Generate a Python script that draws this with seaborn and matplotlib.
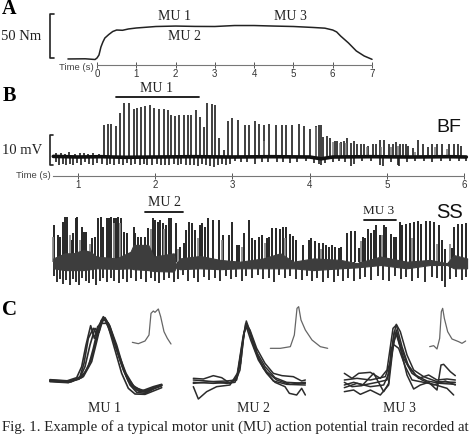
import pandas as pd
import matplotlib
matplotlib.use("Agg")
import matplotlib.pyplot as plt
import seaborn as sns

W, H = 474, 434
SERIF = "Liberation Serif"
SANS = "Liberation Sans"

# panel A, joint torque
torque_t = [-0.74, -0.3, -0.05, 0, 0.05, 0.1, 0.15, 0.2, 0.3, 0.4, 0.5, 0.65, 0.8, 1, 1.5, 2, 2.5, 3, 3.5, 4, 4.5, 5, 5.5, 5.8, 6, 6.1, 6.2, 6.4, 6.6, 6.8, 7]
torque_nm = [0.6, 0.8, 0, 1.7, 5.1, 14.2, 19.9, 24.4, 28.4, 31.8, 33.5, 33.2, 34.7, 35.8, 37.5, 38, 37.6, 37.5, 38.6, 38.6, 38, 37.5, 36.4, 35.6, 33.5, 31.3, 26.7, 18.8, 9.7, 4, 0.2]
a_ticks = [0, 1, 2, 3, 4, 5, 6, 7]

# panel B, biceps (BF) spikes
bf_t = [1.34, 1.39, 1.43, 1.49, 1.54, 1.60, 1.66, 1.73, 1.77, 1.82, 1.87, 1.93, 1.99, 2.05, 2.11, 2.16, 2.2, 2.26, 2.31, 2.37, 2.42, 2.47, 2.53, 2.58, 2.63, 2.67, 2.73, 2.78, 2.83, 2.89, 2.94, 3.0,
        3.07, 3.16, 3.21, 3.29, 3.35, 3.41, 3.48, 3.56, 3.64, 3.70, 3.77, 3.86, 3.93, 4.01, 4.08, 4.12, 4.15, 4.18, 4.22, 4.27, 4.33, 4.36, 4.41, 4.44, 4.49, 4.54, 4.57, 4.61, 4.66, 4.71, 4.76, 4.82, 4.86, 4.91, 4.97, 5.03, 5.08, 5.12, 5.17, 5.21, 5.25, 5.28, 5.34, 5.40, 5.47, 5.53, 5.59, 5.65, 5.72, 5.81, 5.87, 5.92, 5.96]
bf_mv = [10.8, 11.1, 11, 10.5, 14.7, 18, 18, 16.1, 16.5, 16.8, 17, 17.4, 16.5, 16, 16, 15.8, 14.1, 13.7, 13.9, 14.1, 13.9, 13.9, 15.8, 13.4, 9.9, 18, 17.6, 17.2, 6.3, 2.4, 11.9, 13,
         12.4, 10.8, 10.6, 12.1, 11.1, 10.8, 11, 10.8, 10.8, 10.8, 10.6, 11.1, 10.4, 9.3, 10.2, 10.6, 10.8, 6.6, 7.1, 6.3, 5.4, 5.2, 5, 5.2, 6.3, 4.6, 5.4, 4.2, 4.3, 4.3, 3.8, 4.3, 4.2, 5.6, 5.6, 4.5, 4.3, 5, 4.2, 4.3, 4.2, 3.7, 2.9, 5.6, 4.2, 3.2, 4.2, 4.2, 4.2, 4.2, 4.2, 4.2, 3.8]
bf_grey_t = [3.41, 4.08, 4.30, 4.39, 4.47, 4.74, 4.93, 5.06, 5.15, 5.37, 5.63, 5.78]
bf_grey_mv = [5.5, 10, 5, 4.6, 4.8, 3.2, 3.4, 3.4, 3.6, 1.8, 3.2, 2.8]
bf_down_t = [0.72, 0.76, 0.80, 0.84, 0.90, 0.94, 0.99, 1.04, 1.09, 1.14, 1.19, 1.25, 1.31, 1.37, 1.42, 1.47, 1.53, 1.58, 1.63, 1.69, 1.74, 1.80, 1.85, 1.90, 1.96, 2.02, 2.08, 2.13, 2.18, 2.24, 2.29, 2.34, 2.40, 2.45, 2.50, 2.56, 2.61, 2.66, 2.71, 2.76, 2.81, 2.87, 2.92, 2.97,
             3.04, 3.11, 3.19, 3.29, 3.38, 3.46, 3.58, 3.66, 3.74, 3.84, 3.95, 4.06, 4.12, 4.15, 4.20, 4.30, 4.38, 4.46, 4.54, 4.58, 4.68, 4.79, 4.91, 4.95, 5.05, 5.14, 5.16, 5.26, 5.37, 5.48, 5.58, 5.70, 5.82, 5.93, 6.02]
bf_down_mv = [1.8, 2.6, 2.2, 2.8, 2.4, 2.7, 1.9, 2.6, 1.8, 2.2, 2.5, 2.1, 2.4, 2.7, 2.2, 2.8, 2.3, 2.6, 2.1, 2.8, 2.4, 2.7, 2.2, 2.6, 2.8, 2.3, 2.7, 2.5, 2.8, 2.2, 2.6, 2.4, 2.8, 2.5, 2.7, 2.9, 2.3, 2.8, 3.0, 3.3, 2.6, 2.2, 2.7, 2.4,
              1.4, 1.8, 1.6, 2.4, 1.7, 1.5, 1.8, 1.6, 1.9, 1.5, 1.4, 2.0, 2.4, 2.6, 1.9, 1.5, 1.4, 1.6, 2.9, 2.2, 1.3, 1.4, 2.6, 3.0, 1.6, 2.8, 3.0, 1.5, 1.3, 1.2, 1.5, 1.3, 1.4, 1.3, 1.4]
bf_up_t = [0.72, 0.78, 0.83, 0.88, 0.96, 1.02, 1.08, 1.13, 1.20, 1.27]
bf_up_mv = [1.2, 1.4, 1.1, 1.6, 1.0, 1.2, 1.5, 1.0, 1.2, 0.9]
bf_base_t = [0.68, 1.0, 1.3, 1.6, 2.0, 2.5, 3.0, 3.5, 4.0, 4.15, 4.3, 4.8, 5.3, 5.8, 6.03]
bf_base_mv = [0.2, 0, 0.1, -0.1, 0, 0.1, 0, 0.1, 0, -0.6, 0, 0.1, 0, 0.1, 0]
b_ticks = [1, 2, 3, 4, 5, 6]

# panel B, SS spikes
ss_t = [0.685, 0.745, 0.767, 0.80, 0.83, 0.86, 0.92, 0.94, 0.97, 0.99, 1.05, 1.08, 1.11, 1.18, 1.22, 1.26, 1.30, 1.33, 1.37, 1.40, 1.43, 1.46, 1.49, 1.52, 1.56, 1.59, 1.64, 1.72, 1.74, 1.78, 1.82, 1.87, 1.91, 1.97, 2.0, 2.03, 2.06, 2.10, 2.14, 2.18, 2.21, 2.27, 2.32, 2.37, 2.40, 2.44, 2.48, 2.52, 2.58, 2.61, 2.65, 2.69, 2.75, 2.83, 2.88, 2.95, 3.0, 3.06, 3.09, 3.15, 3.21, 3.25, 3.29,
        3.34, 3.38, 3.45, 3.48, 3.51, 3.56, 3.62, 3.66, 3.70, 3.75, 3.79, 3.83, 3.92, 3.99, 4.02, 4.07, 4.12, 4.17, 4.21, 4.25, 4.29, 4.33, 4.38, 4.41, 4.49, 4.54, 4.59, 4.64, 4.69, 4.72, 4.75, 4.79, 4.83, 4.86, 4.91, 4.96, 4.99, 5.05, 5.09, 5.12, 5.17, 5.20, 5.25, 5.30, 5.35, 5.40, 5.44, 5.51, 5.56, 5.61, 5.68, 5.72, 5.76, 5.84, 5.87, 5.92, 5.97, 6.02]
ss_mv = [12.3, 9, 8.4, 13.4, 15.1, 15.1, 7.3, 9.6, 14.6, 15.1, 11.8, 10.1, 10.1, 7.9, 8.4, 14.6, 15.1, 11.8, 14.6, 14.6, 15.1, 14.6, 14.6, 15.1, 14.6, 10.1, 9.6, 11.8, 9.6, 8.4, 8.4, 8.4, 11.2, 14.6, 14, 13.4, 14, 12.9, 12.3, 14.6, 14.6, 12.9, 5.1, 6.2, 10.7, 13.4, 12.9, 10.7, 12.3, 12.9, 11.8, 14.6, 14, 14, 9, 9, 13.4, 5.7, 5.7, 9.6, 14, 7.9, 7.3,
         8.4, 9, 7.9, 8.4, 11.2, 11.2, 10.9, 11.6, 11.6, 9.3, 8.7, 7.3, 5.7, 7.3, 7.9, 7.1, 6.4, 6.4, 5.7, 5.1, 5.7, 5.1, 4.6, 5.1, 9.6, 10.3, 10.4, 4.6, 8.2, 7.9, 10.9, 9.6, 10.7, 12.3, 9, 12.3, 11.8, 9.2, 8.4, 8.4, 13.4, 12.3, 12.6, 12.9, 13.2, 13.7, 12.6, 13.7, 13.8, 13.2, 12.3, 7.3, 4.2, 4.6, 11.8, 12.6, 12.6, 12.9]
ss_grey_t = [0.68, 0.89, 1.02, 1.15, 1.47, 1.54, 1.94, 2.12, 2.30, 2.56, 2.86, 3.13, 3.42, 3.68, 4.15, 4.67, 4.94, 5.33, 5.65, 5.82]
ss_grey_mv = [8.4, 9, 7.5, 6, 13, 13, 11, 11, 4.5, 8, 7.5, 5, 6.5, 8, 4.5, 7, 9, 8, 6, 6]
ss_down_t = [0.69, 0.73, 0.77, 0.81, 0.85, 0.89, 0.93, 0.97, 1.01, 1.05, 1.10, 1.14, 1.19, 1.23, 1.28, 1.33, 1.38, 1.43, 1.47, 1.53, 1.58, 1.64, 1.69, 1.75, 1.81, 1.88, 1.94, 2.00, 2.05, 2.12, 2.18, 2.24, 2.30, 2.36, 2.43, 2.50, 2.56, 2.63, 2.70, 2.77, 2.84, 2.92, 2.98, 3.05, 3.12, 3.18, 3.26,
             3.33, 3.40, 3.47, 3.54, 3.60, 3.68, 3.75, 3.82, 3.90, 3.96, 4.03, 4.10, 4.17, 4.24, 4.31, 4.37, 4.43, 4.50, 4.58, 4.65, 4.72, 4.80, 4.88, 4.95, 5.03, 5.10, 5.18, 5.25, 5.33, 5.41, 5.50, 5.58, 5.65, 5.71, 5.75, 5.82, 5.90, 5.98, 6.03]
ss_down_mv = [4.5, 6.5, 5.8, 7.2, 6, 7.5, 5.5, 6.8, 7.6, 5.2, 6.3, 7.1, 5.6, 7.7, 6.4, 5.3, 6.8, 5.4, 6.2, 7, 5.8, 6.6, 5.2, 6.4, 5.6, 6.8, 5.4, 6.2, 7, 6, 5.2, 6.6, 5.6, 4.2, 6.2, 5.4, 6.6, 5, 6, 5.2, 6.4, 4.8, 5.8, 5, 6.2, 4.8, 5.4,
              4.2, 5.6, 5.2, 6.6, 4.4, 5.4, 4.6, 5.8, 6, 4.6, 6.4, 5.2, 6.6, 5.4, 6.8, 4.8, 6.2, 5.2, 6.4, 5.6, 5, 6, 4.8, 6, 6.4, 4.8, 5.8, 5, 6.4, 5.2, 6.6, 5, 5.4, 6.2, 8.2, 5.6, 5, 6, 5]
ss_band_t = [0.68, 0.83, 0.94, 1.07, 1.16, 1.24, 1.50, 1.68, 1.72, 1.91, 1.98, 2.24, 2.27, 2.32, 2.58, 2.84, 3.10, 3.40, 3.62, 3.79, 4.05, 4.40, 4.61, 4.92, 5.26, 5.56, 5.78, 5.87, 6.04]
ss_band_top = [1.2, 2.9, 2.9, 4, 3.4, 1.8, 1.2, 3.4, 5.7, 5.7, 1.8, 2.9, -1, 1.2, 2, 0.7, 0.1, 1.2, 2.9, 0.1, 1.2, 0.7, -0.4, 1.8, 0.1, 0.7, -0.4, 2.3, 1.2]
ss_band_bot = [-2.1, -2.7, -2.7, -2.7, -2.4, -2.1, -2.3, -2.1, -2.4, -2.7, -3, -3.2, -1.8, -2.4, -2.1, -2.4, -2.1, -2.1, -2.1, -2.1, -2.7, -2.1, -1.8, -1, -2.1, -1, -1, -2.1, -2.1]

# panel C, superimposed action potentials: (sample, amplitude)
mu1_traces = [
    [(150, 44), (200, 42), (230, 52), (245, 85), (258, 150), (272, 208), (283, 170), (293, 205), (305, 215), (320, 215), (340, 165), (360, 105), (380, 55), (405, 22), (435, 12), (460, 22), (485, 30)],
    [(150, 42), (205, 38), (238, 48), (255, 85), (270, 150), (285, 200), (297, 188), (310, 230), (325, 215), (345, 155), (365, 90), (385, 42), (410, 15), (435, 10), (460, 20), (485, 28)],
    [(150, 46), (210, 42), (245, 52), (265, 85), (280, 140), (295, 205), (310, 235), (328, 210), (350, 150), (372, 75), (392, 32), (415, 12), (440, 8), (462, 20), (485, 30)],
    [(150, 42), (200, 40), (235, 48), (255, 68), (275, 110), (290, 170), (305, 225), (315, 232), (330, 205), (350, 140), (370, 75), (390, 30), (410, 8), (435, 5), (460, 18), (485, 28)],
    [(150, 40), (205, 37), (250, 55), (275, 100), (290, 160), (303, 215), (313, 228), (325, 205), (345, 135), (365, 65), (385, 20), (405, 3), (435, 2), (460, 12), (485, 22)],
    [(150, 44), (215, 40), (240, 55), (252, 95), (265, 170), (280, 200), (292, 180), (305, 225), (318, 225), (335, 185), (355, 125), (378, 65), (400, 28), (425, 12), (460, 25), (485, 32)],
]
mu2_traces = [
    [(580, 45), (620, 42), (680, 35), (705, 38), (720, 75), (730, 170), (739, 222), (752, 185), (772, 125), (795, 85), (825, 52), (860, 38), (916, 35)],
    [(580, 35), (630, 40), (680, 42), (706, 45), (722, 95), (733, 190), (741, 212), (755, 170), (775, 110), (800, 70), (830, 45), (870, 32), (916, 38)],
    [(580, 50), (610, 48), (640, 58), (665, 52), (690, 35), (712, 55), (726, 150), (737, 215), (750, 195), (770, 140), (795, 95), (820, 65), (846, 58), (880, 55), (905, 42), (916, 45)],
    [(580, 25), (595, -12), (620, 10), (650, 25), (690, 30), (712, 65), (730, 180), (739, 205), (752, 165), (775, 105), (800, 65), (825, 38), (855, 25), (868, 5), (890, 0), (905, 20), (916, 0)],
    [(580, 38), (640, 35), (690, 38), (710, 45), (724, 130), (735, 200), (745, 200), (765, 135), (790, 80), (820, 42), (860, 32), (916, 30)],
]
mu3_offset = 711
mu3_traces = [
    [(322, 45), (360, 50), (400, 45), (445, 55), (460, 100), (470, 180), (478, 212), (490, 190), (510, 120), (530, 75), (560, 55), (600, 40), (655, 38)],
    [(322, 30), (350, 38), (380, 30), (420, 38), (450, 45), (465, 125), (478, 195), (490, 150), (510, 95), (535, 60), (570, 42), (610, 35), (655, 32)],
    [(322, 65), (345, 50), (365, 65), (400, 68), (430, 50), (450, 75), (468, 200), (478, 210), (495, 145), (515, 85), (545, 50), (575, 60), (600, 45), (630, 48), (655, 45)],
    [(322, 10), (350, 15), (370, 2), (400, 15), (430, 0), (455, 30), (470, 160), (480, 185), (495, 120), (510, 60), (530, 18), (550, 30), (575, 38), (600, 15), (612, 90), (620, 92), (640, 70), (655, 58)],
    [(322, 38), (345, 25), (375, 28), (410, 65), (440, 10), (455, 35), (462, 140), (472, 150), (485, 140), (505, 85), (525, 45), (560, 38), (590, 32), (630, 20), (650, 0)],
    [(322, 22), (360, 35), (400, 25), (440, 30), (458, 70), (472, 190), (480, 175), (500, 110), (525, 65), (555, 45), (590, 30), (625, 42), (655, 30)],
]
mu1_inset = [(397, 158), (415, 154), (435, 162), (447, 180), (453, 245), (460, 252), (465, 248), (475, 258), (482, 235), (492, 190), (502, 170), (513, 153)]
mu2_inset = [(100, 140), (130, 140), (160, 145), (172, 180), (180, 260), (185, 265), (192, 225), (205, 195), (225, 165), (250, 145), (272, 140)]
mu3_inset = [(578, 145), (590, 148), (600, 138), (608, 170), (613, 250), (617, 260), (622, 230), (632, 190), (645, 168), (665, 160), (675, 155), (686, 162)]


def px_axes(fig, left, top, right, bottom):
    ax = fig.add_axes([left / W, 1 - bottom / H, (right - left) / W, (bottom - top) / H])
    ax.patch.set_alpha(0)
    for s in ["top", "right", "left", "bottom"]:
        ax.spines[s].set_visible(False)
    ax.set_yticks([])
    ax.set_xticks([])
    return ax


def spikes(ax, t, mv, color="#1f1f1f", lw=1.2):
    ax.vlines(t, 0, mv, color=color, linewidth=lw)


def time_axis(ax, ticks, start, label_size=7):
    ax.spines["bottom"].set_visible(True)
    ax.spines["bottom"].set_color("#777777")
    ax.spines["bottom"].set_linewidth(0.8)
    ax.spines["bottom"].set_bounds(start, ticks[-1])
    ax.set_xticks(ticks)
    ax.tick_params(axis="x", direction="inout", length=4, width=0.7, color="#555555",
                   labelsize=label_size, labelcolor="#333333", pad=1, bottom=True)
    for lab in ax.get_xticklabels():
        lab.set_family(SANS)


def waves(ax, traces, color, lw, dx=0):
    rows = []
    for i, tr in enumerate(traces):
        for x, y in tr:
            rows.append({"trace": i, "sample": x + dx, "amp": y})
    df = pd.DataFrame(rows)
    sns.lineplot(data=df, x="sample", y="amp", units="trace", estimator=None, sort=False,
                 color=color, linewidth=lw, legend=False, ax=ax)


sns.set_theme(style="white")
plt.rcParams["font.family"] = [SERIF, "DejaVu Serif"]

fig = plt.figure(figsize=(W / 100, H / 100), dpi=100, facecolor="white")

# A
ax_a = px_axes(fig, 45, 8, 378, 65)
sns.lineplot(x=torque_t, y=torque_nm, color="#222222", linewidth=1.1, sort=False, ax=ax_a)
ax_a.set_xlim((45 - 97) / 39.29, (378 - 97) / 39.29)
ax_a.set_ylim((59.5 - 65) / 0.88, (59.5 - 8) / 0.88)
ax_a.plot([-1.1, -1.196, -1.196, -1.1], [51.7, 51.7, 1.7, 1.7], color="#222222", linewidth=1.2, clip_on=False)
time_axis(ax_a, a_ticks, 0)
ax_a.set_xlabel("")
ax_a.set_ylabel("")

# B, BF
to_t = lambda x: 1 + (x - 78) / 77.2
ax_bf = px_axes(fig, 46, 85, 470, 176)
spikes(ax_bf, bf_t, bf_mv)
spikes(ax_bf, bf_grey_t, bf_grey_mv, color="#777777", lw=1.1)
spikes(ax_bf, bf_down_t, [-v for v in bf_down_mv], lw=1.2)
spikes(ax_bf, bf_up_t, bf_up_mv, lw=1.2)
sns.lineplot(x=bf_base_t, y=bf_base_mv, color="#111111", linewidth=2.6, sort=False, ax=ax_bf)
ax_bf.set_xlim(to_t(46), to_t(470))
ax_bf.set_ylim((157 - 176) / 3, (157 - 85) / 3)
ax_bf.plot([0.675, 0.637, 0.637, 0.675], [7.33, 7.33, -2.67, -2.67], color="#222222", linewidth=1.2, clip_on=False)
ax_bf.plot([1.49, 2.57], [20, 20], color="#111111", linewidth=1.3)
time_axis(ax_bf, b_ticks, 0.68)

# B, SS
ax_ss = px_axes(fig, 46, 200, 470, 292)
spikes(ax_ss, ss_t, ss_mv, color="#262626", lw=1.4)
spikes(ax_ss, ss_grey_t, ss_grey_mv, color="#8a8a8a", lw=1.3)
spikes(ax_ss, ss_down_t, [-v for v in ss_down_mv], color="#1f1f1f", lw=1.3)
ax_ss.fill_between(ss_band_t, ss_band_bot, ss_band_top, color="#3d3d3d", linewidth=0.8, zorder=3)
ax_ss.set_xlim(to_t(46), to_t(470))
ax_ss.set_ylim((262 - 292) / 3, (262 - 200) / 3)
ax_ss.plot([1.87, 2.36], [(262 - 212) / 3, (262 - 212) / 3], color="#111111", linewidth=1.3)
ax_ss.plot([4.70, 5.12], [(262 - 220) / 3, (262 - 220) / 3], color="#111111", linewidth=1.3)

# C
ax_c = px_axes(fig, 0, 295, 474, 402)
waves(ax_c, mu1_traces, "#2c2c2c", 1.2)
waves(ax_c, mu2_traces, "#2c2c2c", 1.1)
waves(ax_c, mu3_traces, "#2c2c2c", 1.1, dx=mu3_offset)
waves(ax_c, [mu1_inset], "#666666", 0.9)
waves(ax_c, [mu2_inset], "#666666", 0.9, dx=mu3_offset)
waves(ax_c, [mu3_inset], "#666666", 0.9, dx=mu3_offset)
ax_c.set_xlim(0, 1422)
ax_c.set_ylim(-21, 300)
ax_c.set_xlabel("")
ax_c.set_ylabel("")
ax_c.set_xticks([])
ax_c.set_yticks([])


def label(x, y, s, size=10, family=SERIF, weight="normal", color="#222222", ha="center"):
    fig.text(x / W, 1 - y / H, s, fontsize=size, family=family, weight=weight, color=color, ha=ha, va="center")


label(2, 8.5, "A", 14.5, weight="bold", color="black", ha="left")
label(3, 96, "B", 14.5, weight="bold", color="black", ha="left")
label(2, 310, "C", 15, weight="bold", color="black", ha="left")
label(1, 37, "50 Nm", 10.5, ha="left")
label(2, 151, "10 mV", 10.5, ha="left")
label(175, 17, "MU 1")
label(290, 17, "MU 3")
label(185, 37, "MU 2")
label(157, 89, "MU 1")
label(164, 203, "MU 2")
label(379, 211, "MU 3", 9.5)
label(449, 127, "BF", 14, family=SANS, color="#111111")
label(450, 212, "SS", 14.5, family=SANS, color="#111111")
label(59, 67, "Time (s)", 6.8, family=SANS, color="#444444", ha="left")
label(16, 176, "Time (s)", 6.8, family=SANS, color="#444444", ha="left")
label(105, 409, "MU 1")
label(253, 409, "MU 2")
label(399, 409, "MU 3")
label(2, 427.5, "Fig. 1. Example of a typical motor unit (MU) action potential train recorded at", 10.7, ha="left")

fig.savefig("out.png", dpi=100, facecolor="white")
